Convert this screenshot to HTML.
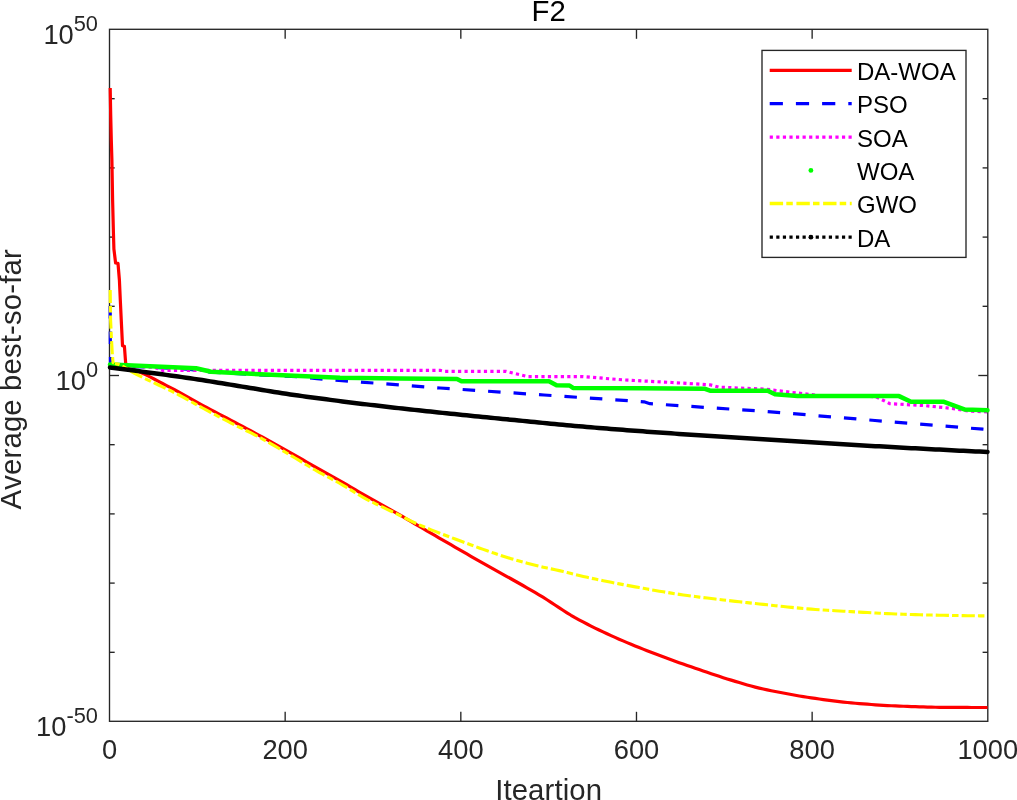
<!DOCTYPE html>
<html lang="en"><head><meta charset="utf-8"><title>F2</title>
<style>html,body{margin:0;padding:0;background:#fff}body{width:1017px;height:800px;overflow:hidden}svg{display:block}text{font-family:"Liberation Sans", Arial, Helvetica, sans-serif;font-kerning:none;fill:#262626}</style></head><body>
<svg width="1017" height="800" viewBox="0 0 1017 800">
<rect x="0" y="0" width="1017" height="800" fill="#ffffff"/>
<g stroke="#262626" stroke-width="1.35" fill="none">
<rect x="109.5" y="29.3" width="878.3" height="692.0"/>
<line x1="285.16" y1="721.3" x2="285.16" y2="711.8"/>
<line x1="285.16" y1="29.3" x2="285.16" y2="38.8"/>
<line x1="460.82" y1="721.3" x2="460.82" y2="711.8"/>
<line x1="460.82" y1="29.3" x2="460.82" y2="38.8"/>
<line x1="636.48" y1="721.3" x2="636.48" y2="711.8"/>
<line x1="636.48" y1="29.3" x2="636.48" y2="38.8"/>
<line x1="812.14" y1="721.3" x2="812.14" y2="711.8"/>
<line x1="812.14" y1="29.3" x2="812.14" y2="38.8"/>
<line x1="109.5" y1="98.7" x2="114.7" y2="98.7"/>
<line x1="987.8" y1="98.7" x2="982.5999999999999" y2="98.7"/>
<line x1="109.5" y1="167.9" x2="114.7" y2="167.9"/>
<line x1="987.8" y1="167.9" x2="982.5999999999999" y2="167.9"/>
<line x1="109.5" y1="237.1" x2="114.7" y2="237.1"/>
<line x1="987.8" y1="237.1" x2="982.5999999999999" y2="237.1"/>
<line x1="109.5" y1="306.3" x2="114.7" y2="306.3"/>
<line x1="987.8" y1="306.3" x2="982.5999999999999" y2="306.3"/>
<line x1="109.5" y1="375.5" x2="119.0" y2="375.5"/>
<line x1="987.8" y1="375.5" x2="978.3" y2="375.5"/>
<line x1="109.5" y1="444.7" x2="114.7" y2="444.7"/>
<line x1="987.8" y1="444.7" x2="982.5999999999999" y2="444.7"/>
<line x1="109.5" y1="513.9" x2="114.7" y2="513.9"/>
<line x1="987.8" y1="513.9" x2="982.5999999999999" y2="513.9"/>
<line x1="109.5" y1="583.1" x2="114.7" y2="583.1"/>
<line x1="987.8" y1="583.1" x2="982.5999999999999" y2="583.1"/>
<line x1="109.5" y1="652.3" x2="114.7" y2="652.3"/>
<line x1="987.8" y1="652.3" x2="982.5999999999999" y2="652.3"/>
</g>
<g fill="none" stroke-linejoin="round">
<polyline stroke="#ff0000" stroke-width="3.2" points="110.2,88 110.7,115 111.3,140 111.9,160 112.6,200 113.4,232 113.9,249 115.6,263 118,263.3 119.4,280 120.3,300 121.5,325 122.5,345.6 124.4,346.2 125.6,362.5 126.5,365.5 130.5,367.72 134.51,369.76 138.51,371.58 142.52,373.27 146.52,375.13 150.53,377.15 154.53,379.26 158.54,381.41 162.54,383.52 166.55,385.59 170.55,387.66 174.56,389.76 178.56,391.93 182.57,394.13 186.57,396.37 190.57,398.62 194.58,400.87 198.58,403.1 202.59,405.29 206.59,407.45 210.6,409.58 214.6,411.69 218.61,413.8 222.61,415.9 226.62,418.01 230.62,420.13 234.63,422.25 238.63,424.37 242.63,426.5 246.64,428.62 250.64,430.76 254.65,432.9 258.65,435.07 262.66,437.25 266.66,439.45 270.67,441.66 274.67,443.88 278.68,446.12 282.68,448.36 286.69,450.61 290.69,452.87 294.7,455.14 298.7,457.43 302.7,459.72 306.71,462.02 310.71,464.31 314.72,466.6 318.72,468.87 322.73,471.12 326.73,473.35 330.74,475.58 334.74,477.82 338.75,480.08 342.75,482.39 346.76,484.72 350.76,487.08 354.77,489.45 358.77,491.82 362.77,494.16 366.78,496.46 370.78,498.72 374.79,500.96 378.79,503.17 382.8,505.38 386.8,507.58 390.81,509.8 394.81,512.05 398.82,514.32 402.82,516.64 406.83,519.01 410.83,521.39 414.83,523.75 418.84,526.1 422.84,528.44 426.85,530.78 430.85,533.11 434.86,535.45 438.86,537.78 442.87,540.1 446.87,542.42 450.88,544.74 454.88,547.06 458.89,549.37 462.89,551.68 466.9,553.98 470.9,556.29 474.9,558.58 478.91,560.88 482.91,563.16 486.92,565.42 490.92,567.67 494.93,569.9 498.93,572.12 502.94,574.33 506.94,576.55 510.95,578.77 514.95,580.99 518.96,583.23 522.96,585.49 526.97,587.77 530.97,590.08 534.97,592.42 538.98,594.79 542.98,597.22 546.99,599.76 550.99,602.36 555,605 559,607.64 563.01,610.25 567.01,612.8 571.02,615.26 575.02,617.59 579.03,619.8 583.03,621.95 587.03,624.04 591.04,626.09 595.04,628.08 599.05,630.02 603.05,631.93 607.06,633.79 611.06,635.62 615.07,637.41 619.07,639.17 623.08,640.9 627.08,642.6 631.09,644.27 635.09,645.91 639.1,647.52 643.1,649.12 647.1,650.7 651.11,652.25 655.11,653.8 659.12,655.33 663.12,656.83 667.13,658.32 671.13,659.78 675.14,661.23 679.14,662.66 683.15,664.07 687.15,665.48 691.16,666.86 695.16,668.24 699.17,669.61 703.17,670.98 707.17,672.34 711.18,673.69 715.18,675.03 719.19,676.35 723.19,677.65 727.2,678.91 731.2,680.14 735.21,681.36 739.21,682.58 743.22,683.77 747.22,684.94 751.23,686.06 755.23,687.12 759.23,688.12 763.24,689.04 767.24,689.91 771.25,690.74 775.25,691.53 779.26,692.29 783.26,693.05 787.27,693.8 791.27,694.54 795.28,695.27 799.28,695.97 803.29,696.63 807.29,697.24 811.3,697.84 815.3,698.42 819.3,699 823.31,699.56 827.31,700.1 831.32,700.63 835.32,701.13 839.33,701.61 843.33,702.06 847.34,702.48 851.34,702.86 855.35,703.22 859.35,703.55 863.36,703.88 867.36,704.19 871.37,704.49 875.37,704.78 879.37,705.05 883.38,705.3 887.38,705.54 891.39,705.75 895.39,705.95 899.4,706.12 903.4,706.27 907.41,706.41 911.41,706.56 915.42,706.69 919.42,706.82 923.43,706.94 927.43,707.05 931.43,707.15 935.44,707.24 939.44,707.31 943.45,707.36 947.45,707.39 951.46,707.41 955.46,707.43 959.47,707.44 963.47,707.46 967.48,707.47 971.48,707.48 975.49,707.49 979.49,707.49 983.5,707.5 987.5,707.5"/>
<polyline stroke="#0000ff" stroke-width="3.2" stroke-dasharray="12.5 13" points="110.2,306 110.3,340 110.5,362 111.5,366 113,366.3"/>
<polyline stroke="#0000ff" stroke-width="3.2" stroke-dasharray="12.5 13" stroke-dashoffset="6.45" points="113,366 150,367.2 190,369.3 211,372.2 250,374.3 300,376.9 317,378.6 339,380.4 440,388 544,395 644,401.8 650,403.7 767,411.5 875,420.5 983,429.2 987.5,429.6"/>
<polyline stroke="#ff00ff" stroke-width="3.2" stroke-dasharray="3.2 3.26" points="110,365 155,367.4 163,370.6 170,370.3 440,370.3 445,371.4 506,371.4 527.6,376.6 582.5,376.6 625,380 672,382.5 710,384.8 719,387.2 766.5,389.2 790,392.2 812,394.6 820,395.8 875.6,396.6 890,403.7 925,405.6 953.5,408.6 968,411 987,411.9"/>
<polyline stroke="#00ff00" stroke-width="4.5" stroke-linecap="round" points="110,364.6 150,366.3 196,368.2 211,371.8 260,374.3 340,377.7 400,378.4 457,379 461.5,381.3 549,381.3 556.5,385.3 569.5,385.5 573,387.9 640,388.3 705,388.8 710,390.7 767.7,390.7 775,394.3 797.7,396.1 899,396.1 911,401.8 944,401.8 965,409.6 987.5,410.3"/>
<polyline stroke="#ffff00" stroke-width="3.1" stroke-dasharray="13.1 3 6.5 3" points="110.2,290 110.6,320 111.25,335 112.2,352 113,362.5 115,363.5"/>
<polyline stroke="#ffff00" stroke-width="3.1" stroke-dasharray="13.2 3.1 6.5 3.1" stroke-dashoffset="8.49" points="115,363.5 119,364.59 123,366.44 127.01,368.86 131.01,371.4 135.01,373.63 139.01,375.66 143.02,377.61 147.02,379.53 151.02,381.42 155.02,383.31 159.03,385.23 163.03,387.13 167.03,389.01 171.03,390.93 175.03,392.92 179.04,395 183.04,397.16 187.04,399.37 191.04,401.61 195.05,403.85 199.05,406.07 203.05,408.24 207.05,410.39 211.06,412.53 215.06,414.67 219.06,416.79 223.06,418.89 227.06,420.98 231.07,423.05 235.07,425.07 239.07,427.05 243.07,429.02 247.08,430.99 251.08,432.98 255.08,435.01 259.08,437.11 263.08,439.29 267.09,441.53 271.09,443.83 275.09,446.17 279.09,448.54 283.1,450.9 287.1,453.26 291.1,455.63 295.1,458.03 299.11,460.45 303.11,462.88 307.11,465.29 311.11,467.67 315.11,470.01 319.12,472.29 323.12,474.48 327.12,476.61 331.12,478.71 335.13,480.83 339.13,483.01 343.13,485.3 347.13,487.7 351.14,490.15 355.14,492.6 359.14,495.01 363.14,497.33 367.14,499.52 371.15,501.6 375.15,503.6 379.15,505.55 383.15,507.45 387.16,509.34 391.16,511.23 395.16,513.14 399.16,515.09 403.17,517.1 407.17,519.16 411.17,521.17 415.17,523.03 419.17,524.8 423.18,526.51 427.18,528.19 431.18,529.82 435.18,531.42 439.19,532.99 443.19,534.53 447.19,536.05 451.19,537.56 455.19,539.05 459.2,540.54 463.2,542.03 467.2,543.52 471.2,545 475.21,546.48 479.21,547.94 483.21,549.38 487.21,550.81 491.22,552.2 495.22,553.57 499.22,554.9 503.22,556.2 507.22,557.45 511.23,558.66 515.23,559.83 519.23,560.98 523.23,562.09 527.24,563.17 531.24,564.21 535.24,565.23 539.24,566.22 543.25,567.16 547.25,568.04 551.25,568.89 555.25,569.75 559.25,570.63 563.26,571.56 567.26,572.53 571.26,573.53 575.26,574.52 579.27,575.5 583.27,576.46 587.27,577.36 591.27,578.23 595.28,579.08 599.28,579.91 603.28,580.73 607.28,581.54 611.28,582.33 615.29,583.11 619.29,583.88 623.29,584.64 627.29,585.39 631.3,586.13 635.3,586.86 639.3,587.59 643.3,588.32 647.31,589.04 651.31,589.76 655.31,590.46 659.31,591.16 663.31,591.83 667.32,592.5 671.32,593.14 675.32,593.77 679.32,594.37 683.33,594.95 687.33,595.51 691.33,596.05 695.33,596.57 699.33,597.09 703.34,597.59 707.34,598.08 711.34,598.56 715.34,599.03 719.35,599.5 723.35,599.97 727.35,600.43 731.35,600.89 735.36,601.35 739.36,601.79 743.36,602.23 747.36,602.66 751.36,603.09 755.37,603.51 759.37,603.93 763.37,604.36 767.37,604.79 771.38,605.23 775.38,605.68 779.38,606.11 783.38,606.55 787.39,606.97 791.39,607.38 795.39,607.78 799.39,608.15 803.39,608.51 807.4,608.83 811.4,609.14 815.4,609.43 819.4,609.71 823.41,609.98 827.41,610.24 831.41,610.49 835.41,610.73 839.42,610.97 843.42,611.2 847.42,611.43 851.42,611.65 855.42,611.88 859.43,612.11 863.43,612.34 867.43,612.56 871.43,612.79 875.44,613.01 879.44,613.22 883.44,613.43 887.44,613.62 891.44,613.81 895.45,613.98 899.45,614.13 903.45,614.27 907.45,614.4 911.46,614.52 915.46,614.64 919.46,614.75 923.46,614.86 927.47,614.96 931.47,615.05 935.47,615.14 939.47,615.23 943.47,615.31 947.48,615.38 951.48,615.45 955.48,615.51 959.48,615.57 963.49,615.63 967.49,615.69 971.49,615.74 975.49,615.79 979.5,615.83 983.5,615.87 987.5,615.9"/>
<polyline stroke="#000000" stroke-width="4.5" stroke-linecap="round" points="110,367.4 114.01,367.91 118.01,368.43 122.02,368.95 126.03,369.48 130.03,370 134.04,370.54 138.05,371.07 142.05,371.61 146.06,372.15 150.07,372.69 154.08,373.23 158.08,373.77 162.09,374.32 166.1,374.87 170.1,375.42 174.11,375.98 178.12,376.54 182.12,377.11 186.13,377.68 190.14,378.27 194.14,378.86 198.15,379.47 202.16,380.09 206.16,380.72 210.17,381.36 214.18,382 218.18,382.66 222.19,383.31 226.2,383.97 230.21,384.63 234.21,385.29 238.22,385.95 242.23,386.6 246.23,387.26 250.24,387.92 254.25,388.59 258.25,389.26 262.26,389.94 266.27,390.61 270.27,391.27 274.28,391.93 278.29,392.58 282.29,393.21 286.3,393.82 290.31,394.42 294.32,395.01 298.32,395.57 302.33,396.13 306.34,396.68 310.34,397.22 314.35,397.75 318.36,398.28 322.36,398.81 326.37,399.34 330.38,399.86 334.38,400.38 338.39,400.89 342.4,401.4 346.4,401.91 350.41,402.41 354.42,402.91 358.42,403.41 362.43,403.9 366.44,404.39 370.45,404.87 374.45,405.35 378.46,405.82 382.47,406.29 386.47,406.75 390.48,407.21 394.49,407.66 398.49,408.12 402.5,408.56 406.51,409.01 410.51,409.45 414.52,409.88 418.53,410.32 422.53,410.75 426.54,411.18 430.55,411.6 434.55,412.03 438.56,412.45 442.57,412.87 446.58,413.29 450.58,413.7 454.59,414.11 458.6,414.52 462.6,414.93 466.61,415.34 470.62,415.74 474.62,416.14 478.63,416.54 482.64,416.94 486.64,417.33 490.65,417.73 494.66,418.12 498.66,418.52 502.67,418.91 506.68,419.31 510.68,419.7 514.69,420.09 518.7,420.49 522.71,420.88 526.71,421.28 530.72,421.68 534.73,422.07 538.73,422.47 542.74,422.88 546.75,423.29 550.75,423.7 554.76,424.1 558.77,424.49 562.77,424.85 566.78,425.21 570.79,425.57 574.79,425.92 578.8,426.27 582.81,426.61 586.82,426.95 590.82,427.29 594.83,427.62 598.84,427.95 602.84,428.28 606.85,428.6 610.86,428.92 614.86,429.23 618.87,429.55 622.88,429.86 626.88,430.16 630.89,430.47 634.9,430.77 638.9,431.07 642.91,431.36 646.92,431.66 650.92,431.95 654.93,432.24 658.94,432.52 662.95,432.81 666.95,433.09 670.96,433.36 674.97,433.63 678.97,433.9 682.98,434.17 686.99,434.43 690.99,434.68 695,434.94 699.01,435.19 703.01,435.45 707.02,435.7 711.03,435.95 715.03,436.19 719.04,436.44 723.05,436.69 727.05,436.93 731.06,437.18 735.07,437.43 739.08,437.68 743.08,437.93 747.09,438.18 751.1,438.43 755.1,438.69 759.11,438.94 763.12,439.2 767.12,439.46 771.13,439.73 775.14,439.99 779.14,440.25 783.15,440.5 787.16,440.75 791.16,441.01 795.17,441.26 799.18,441.51 803.18,441.77 807.19,442.02 811.2,442.27 815.21,442.52 819.21,442.77 823.22,443.02 827.23,443.27 831.23,443.52 835.24,443.76 839.25,444.01 843.25,444.25 847.26,444.49 851.27,444.73 855.27,444.97 859.28,445.21 863.29,445.44 867.29,445.67 871.3,445.91 875.31,446.13 879.32,446.36 883.32,446.59 887.33,446.81 891.34,447.03 895.34,447.25 899.35,447.48 903.36,447.69 907.36,447.91 911.37,448.13 915.38,448.35 919.38,448.56 923.39,448.77 927.4,448.98 931.4,449.2 935.41,449.4 939.42,449.61 943.42,449.82 947.43,450.02 951.44,450.23 955.45,450.43 959.45,450.63 963.46,450.83 967.47,451.03 971.47,451.23 975.48,451.42 979.49,451.62 983.49,451.81 987.5,452"/>
</g>
<g font-size="27.3" text-anchor="middle">
<text x="109.5" y="759.3">0</text>
<text x="285.16" y="759.3">200</text>
<text x="460.82" y="759.3">400</text>
<text x="636.48" y="759.3">600</text>
<text x="812.14" y="759.3">800</text>
<text x="987.8" y="759.3">1000</text>
</g>
<g font-size="27.3" text-anchor="end">
<text x="98" y="44">10<tspan font-size="21.8" dy="-12.8">50</tspan></text>
<text x="98" y="390">10<tspan font-size="21.8" dy="-12.8">0</tspan></text>
<text x="98" y="736">10<tspan font-size="21.8" dy="-12.8">-50</tspan></text>
</g>
<text x="548.65" y="21" font-size="29.33" text-anchor="middle" fill="#000000" style="fill:#000">F2</text>
<text x="548.65" y="799.5" font-size="29.33" text-anchor="middle" letter-spacing="0.1">Iteartion</text>
<text transform="translate(20.5,379.3) rotate(-90)" font-size="29.33" text-anchor="middle" letter-spacing="0.14">Average best-so-far</text>
<rect x="762" y="50.4" width="204" height="207" fill="#ffffff" stroke="#262626" stroke-width="1.35"/>
<g fill="none">
<line x1="769.7" y1="70.4" x2="851.7" y2="70.4" stroke="#ff0000" stroke-width="3.1"/>
<line x1="769.7" y1="103.7" x2="851.7" y2="103.7" stroke="#0000ff" stroke-width="3.3" stroke-dasharray="13.2 13"/>
<line x1="769.7" y1="137.2" x2="851.7" y2="137.2" stroke="#ff00ff" stroke-width="3.3" stroke-dasharray="3.2 3.37"/>
<circle cx="810.9" cy="170.4" r="2.4" fill="#00ff00" stroke="none"/>
<line x1="769.7" y1="203.5" x2="851.7" y2="203.5" stroke="#ffff00" stroke-width="3.3" stroke-dasharray="13.4 3.2 6.5 3.6"/>
<line x1="769.7" y1="237.2" x2="851.7" y2="237.2" stroke="#000000" stroke-width="3.3" stroke-dasharray="3.2 3.37"/>
<circle cx="810.9" cy="237.2" r="2.4" fill="#000000" stroke="none"/>
</g>
<g font-size="24">
<text x="857" y="79.8" style="fill:#000">DA-WOA</text>
<text x="857" y="113.1" style="fill:#000">PSO</text>
<text x="857" y="146.6" style="fill:#000">SOA</text>
<text x="857" y="179.8" style="fill:#000">WOA</text>
<text x="857" y="212.9" style="fill:#000">GWO</text>
<text x="857" y="246.6" style="fill:#000">DA</text>
</g>
</svg></body></html>
